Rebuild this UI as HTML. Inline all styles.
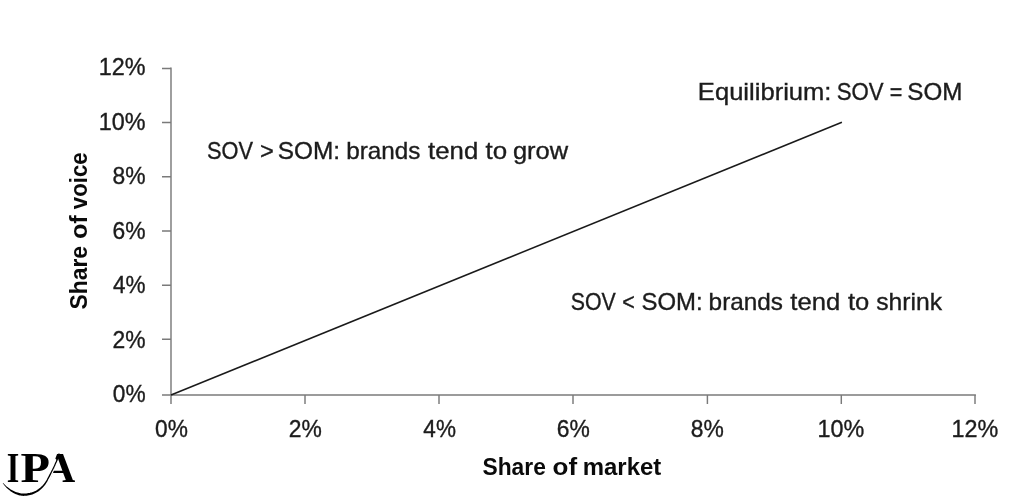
<!DOCTYPE html>
<html>
<head>
<meta charset="utf-8">
<title>Share of voice vs share of market</title>
<style>
html,body{margin:0;padding:0;background:#fff;}
body{width:1021px;height:502px;overflow:hidden;}
svg{display:block;filter:blur(0.45px);}
.t{font-family:"Liberation Sans",sans-serif;fill:#1c1c1c;stroke:#1c1c1c;stroke-width:0.35px;}
.b{font-family:"Liberation Sans",sans-serif;font-weight:bold;fill:#0a0a0a;}
.logo{font-family:"Liberation Serif",serif;fill:#000;}
</style>
</head>
<body>
<svg width="1021" height="502" viewBox="0 0 1021 502">
<rect width="1021" height="502" fill="#fff"/>
<!-- axes -->
<g stroke="#7a7a7a" stroke-width="1.45" fill="none">
<path d="M171 67.5V404"/>
<path d="M162 395H975.9"/>
<path d="M162 68.4H171M162 122.5H171M162 176.8H171M162 231H171M162 285.2H171M162 339.3H171"/>
<path d="M305 395V404M439 395V404M573 395V404M707.4 395V404M841.3 395V404M975 395V404"/>
</g>
<!-- data line -->
<path d="M171 395L841.9 122.3" stroke="#1a1a1a" stroke-width="1.55" fill="none"/>
<!-- text -->
<text class="t" font-size="23.2" x="98.74" y="75.30" textLength="46.74" lengthAdjust="spacingAndGlyphs">12%</text>
<text class="t" font-size="23.2" x="98.74" y="129.82" textLength="46.74" lengthAdjust="spacingAndGlyphs">10%</text>
<text class="t" font-size="23.2" x="112.51" y="184.34" textLength="33.04" lengthAdjust="spacingAndGlyphs">8%</text>
<text class="t" font-size="23.2" x="112.51" y="238.86" textLength="33.04" lengthAdjust="spacingAndGlyphs">6%</text>
<text class="t" font-size="23.2" x="113.01" y="293.38" textLength="32.53" lengthAdjust="spacingAndGlyphs">4%</text>
<text class="t" font-size="23.2" x="112.51" y="347.90" textLength="33.04" lengthAdjust="spacingAndGlyphs">2%</text>
<text class="t" font-size="23.2" x="112.77" y="402.42" textLength="32.78" lengthAdjust="spacingAndGlyphs">0%</text>
<text class="t" font-size="23.2" x="155.12" y="437.00" textLength="32.78" lengthAdjust="spacingAndGlyphs">0%</text>
<text class="t" font-size="23.2" x="288.86" y="437.00" textLength="33.04" lengthAdjust="spacingAndGlyphs">2%</text>
<text class="t" font-size="23.2" x="423.36" y="437.00" textLength="32.53" lengthAdjust="spacingAndGlyphs">4%</text>
<text class="t" font-size="23.2" x="556.86" y="437.00" textLength="33.04" lengthAdjust="spacingAndGlyphs">6%</text>
<text class="t" font-size="23.2" x="690.86" y="437.00" textLength="33.04" lengthAdjust="spacingAndGlyphs">8%</text>
<text class="t" font-size="23.2" x="817.59" y="437.00" textLength="46.74" lengthAdjust="spacingAndGlyphs">10%</text>
<text class="t" font-size="23.2" x="951.59" y="437.00" textLength="46.74" lengthAdjust="spacingAndGlyphs">12%</text>
<text class="t" font-size="23.2" y="99.90"><tspan x="697.87" textLength="133.62" lengthAdjust="spacingAndGlyphs">Equilibrium:</tspan> <tspan x="836.64" textLength="46.87" lengthAdjust="spacingAndGlyphs">SOV</tspan> <tspan x="889.87" textLength="12.60" lengthAdjust="spacingAndGlyphs">=</tspan> <tspan x="907.36" textLength="55.05" lengthAdjust="spacingAndGlyphs">SOM</tspan></text>
<text class="t" font-size="23.2" y="158.70"><tspan x="207.06" textLength="45.94" lengthAdjust="spacingAndGlyphs">SOV</tspan> <tspan x="259.98" textLength="13.78" lengthAdjust="spacingAndGlyphs">&gt;</tspan> <tspan x="277.75" textLength="62.27" lengthAdjust="spacingAndGlyphs">SOM:</tspan> <tspan x="346.23" textLength="74.26" lengthAdjust="spacingAndGlyphs">brands</tspan> <tspan x="428.12" textLength="50.12" lengthAdjust="spacingAndGlyphs">tend</tspan> <tspan x="485.52" textLength="21.62" lengthAdjust="spacingAndGlyphs">to</tspan> <tspan x="512.90" textLength="55.22" lengthAdjust="spacingAndGlyphs">grow</tspan></text>
<text class="t" font-size="23.2" y="309.80"><tspan x="570.68" textLength="45.02" lengthAdjust="spacingAndGlyphs">SOV</tspan> <tspan x="622.37" textLength="12.60" lengthAdjust="spacingAndGlyphs">&lt;</tspan> <tspan x="641.57" textLength="61.11" lengthAdjust="spacingAndGlyphs">SOM:</tspan> <tspan x="708.63" textLength="74.36" lengthAdjust="spacingAndGlyphs">brands</tspan> <tspan x="790.32" textLength="49.91" lengthAdjust="spacingAndGlyphs">tend</tspan> <tspan x="848.02" textLength="21.30" lengthAdjust="spacingAndGlyphs">to</tspan> <tspan x="876.20" textLength="65.92" lengthAdjust="spacingAndGlyphs">shrink</tspan></text>
<text class="b" font-size="23.4" y="475.40"><tspan x="482.47" textLength="63.38" lengthAdjust="spacingAndGlyphs">Share</tspan> <tspan x="552.57" textLength="24.54" lengthAdjust="spacingAndGlyphs">of</tspan> <tspan x="582.76" textLength="78.56" lengthAdjust="spacingAndGlyphs">market</tspan></text>
<text class="b" font-size="23.4" transform="translate(87.20 309.53) rotate(-90)"><tspan x="0.00" textLength="63.58" lengthAdjust="spacingAndGlyphs">Share</tspan> <tspan x="70.42" textLength="23.93" lengthAdjust="spacingAndGlyphs">of</tspan> <tspan x="100.33" textLength="56.79" lengthAdjust="spacingAndGlyphs">voice</tspan></text>
<!-- IPA logo -->
<defs><clipPath id="ac"><path d="M55 452H90V495H54.2V479.8H50.5L57.6 460.6L55 458.5Z"/></clipPath></defs>
<g class="logo" font-size="42" font-weight="bold">
<text x="6.8" y="482.4" textLength="12.5" lengthAdjust="spacingAndGlyphs">I</text>
<text x="20.5" y="482.4" textLength="29.5" lengthAdjust="spacingAndGlyphs">P</text>
<text x="44.7" y="482.4" textLength="30.5" lengthAdjust="spacingAndGlyphs" clip-path="url(#ac)">A</text>
</g>
<path d="M2.7 483.3L3.4 484.1L4.1 484.9L4.7 485.8L5.4 486.6L6.2 487.4L7.0 488.3L7.9 489.1L8.8 489.8L9.8 490.6L10.8 491.4L11.9 492.1L12.9 492.7L13.9 493.2L14.9 493.7L16.0 494.2L17.0 494.6L18.0 494.9L18.9 495.2L19.8 495.4L20.7 495.6L21.6 495.7L22.4 495.8L23.4 495.9L24.3 495.8L25.4 495.8L26.6 495.7L27.8 495.5L29.0 495.3L30.2 495.1L31.3 494.8L32.4 494.4L33.4 494.0L34.5 493.6L35.5 493.1L36.4 492.6L37.4 492.0L38.3 491.4L39.3 490.7L40.1 489.9L41.0 489.2L41.8 488.4L42.6 487.7L43.3 486.9L43.9 486.2L44.6 485.4L45.2 484.7L45.7 483.9L46.3 483.1L46.8 482.3L47.3 481.4L47.8 480.5L48.2 479.6L48.7 478.7L49.2 477.8L49.7 476.9L50.2 475.9L50.7 474.9L51.2 473.9L51.6 472.9L52.1 471.9L52.6 470.9L53.1 469.9L53.6 468.9L54.1 467.9L54.6 466.9L55.0 466.0L55.5 465.0L55.9 464.1L56.3 463.1L56.8 462.2L57.2 461.2L57.6 460.2L57.9 459.2L58.3 458.1L58.7 457.0L59.0 455.9L59.4 454.8L59.8 453.7L58.6 453.3L58.3 454.4L57.9 455.5L57.5 456.6L57.2 457.7L56.8 458.8L56.4 459.8L56.0 460.8L55.7 461.7L55.2 462.6L54.8 463.6L54.4 464.5L54.0 465.4L53.5 466.4L53.0 467.4L52.5 468.4L52.1 469.4L51.6 470.3L51.1 471.3L50.6 472.3L50.1 473.3L49.5 474.3L49.0 475.3L48.5 476.3L48.0 477.2L47.5 478.1L47.1 479.0L46.6 479.9L46.1 480.7L45.6 481.5L45.1 482.3L44.6 483.1L44.0 483.8L43.4 484.5L42.8 485.2L42.1 485.9L41.4 486.5L40.7 487.2L39.9 487.9L39.0 488.6L38.2 489.2L37.3 489.8L36.4 490.4L35.5 490.9L34.6 491.3L33.6 491.7L32.7 492.0L31.7 492.4L30.7 492.6L29.7 492.9L28.6 493.1L27.4 493.3L26.3 493.4L25.2 493.5L24.3 493.6L23.4 493.6L22.6 493.5L21.8 493.5L21.1 493.4L20.3 493.2L19.5 493.0L18.6 492.8L17.6 492.6L16.6 492.3L15.7 491.9L14.7 491.5L13.7 491.1L12.7 490.6L11.7 490.0L10.7 489.4L9.7 488.7L8.7 488.0L7.8 487.3L6.9 486.7L6.1 485.9L5.4 485.2L4.6 484.4L3.9 483.7L3.1 482.9Z" fill="#000"/>
</svg>
</body>
</html>
